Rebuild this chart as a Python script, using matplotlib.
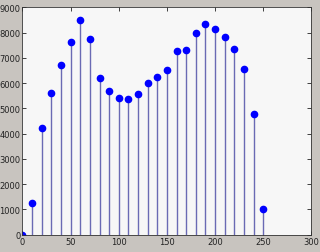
import numpy as np
import matplotlib
matplotlib.use('Agg')
import matplotlib.pyplot as plt

# sample positions and values
x = [0, 10, 20, 30, 40, 50, 60, 70, 80, 90, 100, 110, 120, 130, 140, 150,
     160, 170, 180, 190, 200, 210, 220, 230, 240, 250]
y = [0, 1257, 4218, 5590, 6728, 7640, 8485, 7731, 6201, 5670, 5408, 5380,
     5566, 5987, 6252, 6518, 7256, 7311, 7969, 8342, 8156, 7838, 7362,
     6570, 4773, 1019]
xticks = [0, 50, 100, 150, 200, 250, 300]
yticks = [0, 1000, 2000, 3000, 4000, 5000, 6000, 7000, 8000, 9000]

fig = plt.figure(figsize=(3.2, 2.53), dpi=100, facecolor='#c8c4bf')
ax = fig.add_axes([0.0703, 0.0684, 0.9027, 0.8986])
ax.set_facecolor('#f7f7f7')

ml, sl, bl = ax.stem(x, y, basefmt=' ')
plt.setp(sl, color='#6a6ab4', linewidth=1.0)
plt.setp(ml, color='#0000ff', markersize=4.5)

ax.set_xlim(0, 300)
ax.set_ylim(0, 9000)
ax.set_xticks(xticks)
ax.set_yticks(yticks)
ax.tick_params(direction='in', top=True, right=True, labelsize=6, length=3,
               width=0.6, pad=1.5, colors='#222222')
for s in ax.spines.values():
    s.set_linewidth(0.6)
    s.set_color('#333333')

fig.savefig('out.png', dpi=100, facecolor=fig.get_facecolor())
